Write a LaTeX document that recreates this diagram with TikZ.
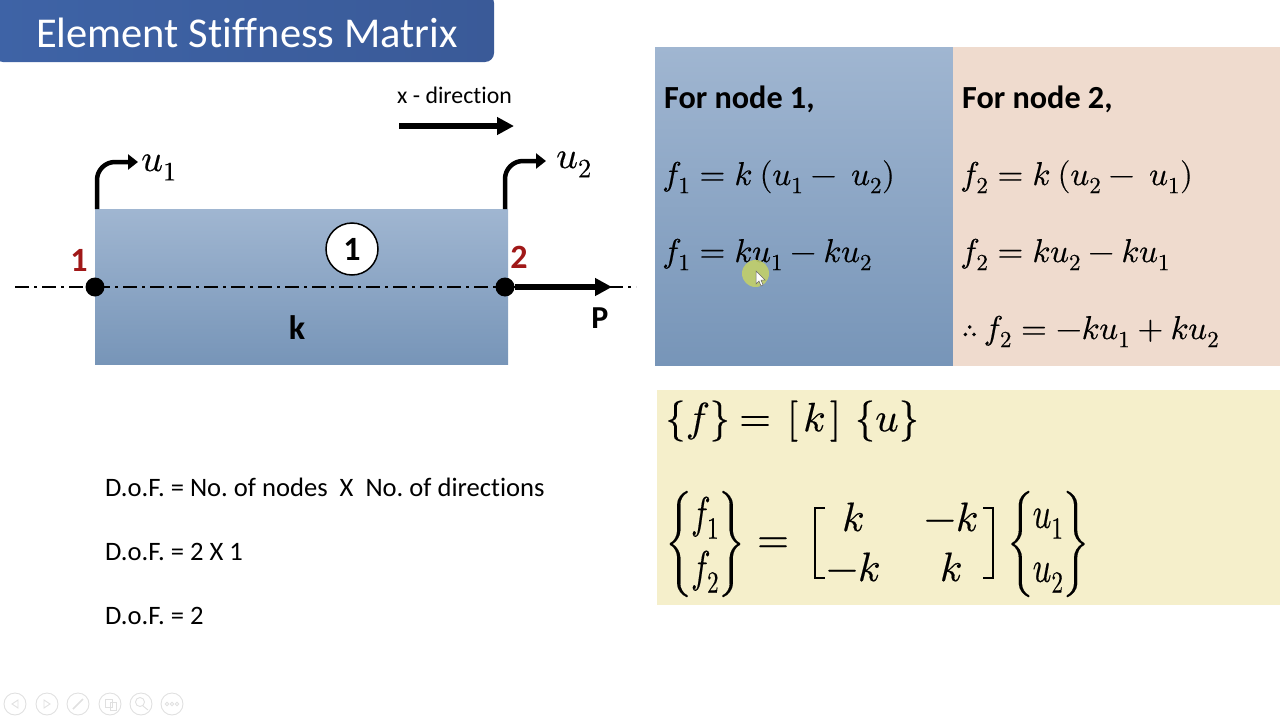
\documentclass[tikz,border=0pt]{standalone}
\usepackage{amsmath,amssymb,graphicx}
\usepackage{fontspec}
\usepackage{unicode-math}
\setmathfont{Latin Modern Math}[FakeBold=0.35]
\setmainfont{Carlito}[Ligatures=NoCommon]
\frenchspacing
\usetikzlibrary{arrows.meta}
\definecolor{titleblue}{HTML}{3E63A6}
\definecolor{titledark}{HTML}{3A5A98}
\definecolor{steeltop}{HTML}{A0B6D1}
\definecolor{steelbot}{HTML}{7795B8}
\definecolor{peach}{HTML}{EFDBCE}
\definecolor{cream}{HTML}{F5EFCB}
\definecolor{nodered}{HTML}{A01818}
\definecolor{iconline}{HTML}{E0E0E0}
\definecolor{laser}{HTML}{C2CF6A}
\tikzset{
  box/.style={inner sep=0pt,outer sep=0pt},
  txt/.style={inner sep=0pt,anchor=base west,font=\fontsize{26.6}{30}\selectfont},
  bold/.style={inner sep=0pt,anchor=base,font=\fontsize{34}{40}\selectfont\bfseries},
  head/.style={inner sep=0pt,anchor=base west,font=\fontsize{32.2}{38}\selectfont\bfseries},
  eqn/.style={inner sep=0pt,anchor=base west,font=\fontsize{33}{40}\selectfont},
  bigeqn/.style={inner sep=0pt,font=\fontsize{41}{50}\selectfont},
  arr/.style={line width=6pt,-{Triangle[length=17pt,width=17pt]}},
  uarr/.style={line width=4.5pt,rounded corners=18pt,-{Triangle[length=10pt,width=15pt]}},
  brk/.style={line width=1.8pt},
  dot/.style={circle,fill=black,minimum size=19pt,inner sep=0pt},
  icon/.style={circle,draw=iconline,line width=.9pt,minimum size=22pt,inner sep=0pt}
}
\newcommand{\vecpair}[2]{\scalebox{.8}[1.08]{$\left\{\begin{matrix} #1\\ #2 \end{matrix}\right\}$}}
\begin{document}
\begin{tikzpicture}[x=1pt,y=-1pt]
\useasboundingbox (0,0) rectangle (1280,720);
% title
\node (titlebar) [box,minimum width=500pt,minimum height=68pt,rounded corners=9pt,left color=titleblue,right color=titledark,anchor=north west] at (-6,-6) {};
\node (title) [txt,text=white,font=\fontsize{42.5}{50}\selectfont] at (36,47) {Element Stiffness Matrix};
% element
\node (xdir) [txt,font=\fontsize{23.8}{28}\selectfont] at (397,103) {x - direction};
\coordinate (xa) at (399,126);
\coordinate (xb) at (514,126);
\draw[arr] (xa) -- (xb);
\node (bar) [box,minimum width=413pt,minimum height=155pt,top color=steeltop,bottom color=steelbot,anchor=north west] at (95,209) {};
\coordinate (ua1) at (97,209);
\coordinate (ub1) at (138,162);
\coordinate (ua2) at (505,209);
\coordinate (ub2) at (546,161);
\draw[uarr] (ua1) |- (ub1);
\draw[uarr] (ua2) |- (ub2);
\node (u1) [eqn,font=\fontsize{38}{44}\selectfont] at (141,171) {$u_1$};
\node (u2) [eqn,font=\fontsize{38}{44}\selectfont] at (556,168) {$u_2$};
\coordinate (axl) at (15,287);
\coordinate (axr) at (636,287);
\draw[line width=1.5pt,dash pattern=on 14pt off 5pt on 3pt off 5pt] (axl) -- (axr);
\node (n1) [dot] at (95,287) {};
\node (n2) [dot] at (505,287) {};
\coordinate (pend) at (612,287);
\draw[arr] (n2) -- (pend);
\node (lab1) [bold,text=nodered] at (79,271) {1};
\node (lab2) [bold,text=nodered] at (519,268) {2};
\node (elem) [circle,draw=black,line width=1.5pt,fill=white,minimum size=52pt,inner sep=0pt,font=\fontsize{34}{40}\selectfont\bfseries] at (352,249) {1};
\node (stiff) [bold] at (297,339) {k};
\node (load) [bold,font=\fontsize{32}{38}\selectfont\bfseries] at (600,328) {P};
% dof
\node (dofa) [txt] at (105,496) {D.o.F. = No. of nodes~~X~~No. of directions};
\node (dofb) [txt] at (105,560) {D.o.F. = 2 X 1};
\node (dofc) [txt] at (105,624) {D.o.F. = 2};
% panels
\node (pleft) [box,minimum width=298pt,minimum height=318.5pt,top color=steeltop,bottom color=steelbot,anchor=north west] at (655,47) {};
\node (pright) [box,minimum width=327pt,minimum height=318.5pt,fill=peach,anchor=north west] at (953,47) {};
\node (pmat) [box,minimum width=623pt,minimum height=215pt,fill=cream,anchor=north west] at (657,390) {};
\node (hone) [head] at (664,108) {For node 1,};
\node (htwo) [head] at (962,108) {For node 2,};
\node (eqa) [eqn] at (662,185) {$f_1 = k\ (u_1 -\ u_2)$};
\node (eqb) [eqn] at (662,262) {$f_1 = ku_1 - ku_2$};
\node (eqc) [eqn] at (960,185) {$f_2 = k\ (u_2 -\ u_1)$};
\node (eqd) [eqn] at (960,262) {$f_2 = ku_2 - ku_1$};
\node (eqe) [eqn] at (961,339) {$\therefore\, f_2 = -ku_1 + ku_2$};
\node (matone) [bigeqn,anchor=west] at (665,421) {$\{f\}\mkern-1mu =\mkern2mu[\mkern2mu k\mkern2mu]\mkern6mu\{u\}$};
\node (vecf) [bigeqn] at (705,544) {\vecpair{f_1}{f_2}};
\node (eqsign) [bigeqn] at (773,545) {$=$};
\node (matk) [bigeqn] at (902,546) {$\arraycolsep=22pt\begin{matrix} k & -k\\ -k & k \end{matrix}$};
\coordinate (lbt) at (825,508);
\coordinate (lbb) at (825,578);
\coordinate (rbt) at (983,508);
\coordinate (rbb) at (983,578);
\draw[brk] (lbt) -- ++(-10,0) -- ++(0,70) -- (lbb);
\draw[brk] (rbt) -- ++(10,0) -- ++(0,70) -- (rbb);
\node (vecu) [bigeqn] at (1048,544) {\vecpair{u_1}{u_2}};
% pointer
\fill[fill=laser,opacity=.9] (755.5,273.5) circle (13.5pt);
\draw[fill=white,draw=black!60,line width=.5pt] (756,271) -- (756,284) -- (759,281) -- (761,286) -- (763,285) -- (761,280) -- (765,280) -- cycle;
% toolbar
\foreach \nm/\xx in {ba/15,bb/47,bc/78,bd/110,be/141,bf/172}
  \node (\nm) [icon] at (\xx,704) {};
\draw[iconline,line width=.9pt] (18,700) -- (12,704) -- (18,708) -- cycle;
\draw[iconline,line width=.9pt] (44,700) -- (50,704) -- (44,708) -- cycle;
\draw[iconline,line width=1.5pt] (73,709) -- (83,699);
\draw[iconline,line width=.9pt] (105,699) rectangle (112,707) (110,702) rectangle (116,710);
\draw[iconline,line width=.9pt] (140,702) circle (4.5pt) (143,706) -- (148,710);
\foreach \xx in {167,172,177}
  \draw[iconline,line width=.8pt] (\xx,704) circle (1.8pt);
\end{tikzpicture}
\end{document}
